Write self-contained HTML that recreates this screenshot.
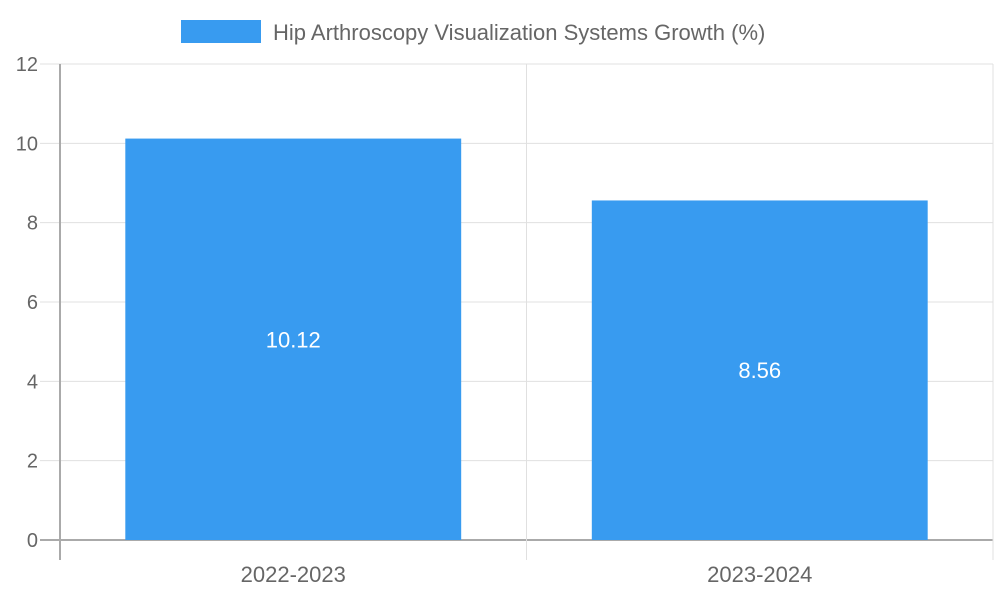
<!DOCTYPE html>
<html><head><meta charset="utf-8"><style>
body{margin:0;background:#fff;}
svg{display:block;font-family:"Liberation Sans",sans-serif;}
</style></head><body>
<svg id="chart" width="1000" height="600"></svg>
<script>
const categories = ["2022-2023", "2023-2024"];
const values = [10.12, 8.56];
const yTicks = [0, 2, 4, 6, 8, 10, 12];
const seriesName = "Hip Arthroscopy Visualization Systems Growth (%)";

const NS = "http://www.w3.org/2000/svg";
const svg = document.getElementById("chart");
const L = 60, R = 993, T = 64, B = 540, yMax = 12;
const y = v => B - v / yMax * (B - T);
const bw = (R - L) / categories.length;
const xc = i => L + bw * (i + 0.5);
function mk(tag, attrs, text) {
  const e = document.createElementNS(NS, tag);
  for (const k in attrs) e.setAttribute(k, attrs[k]);
  if (text !== undefined) e.textContent = text;
  svg.appendChild(e);
  return e;
}
// grid
yTicks.forEach(t => {
  const g = mk("line", {x1: L - 20, x2: R, y1: y(t), y2: y(t), stroke: t === 0 ? "#aaa" : "#e0e0e0", "stroke-width": t === 0 ? 2 : 1});
  
  
  const lb = mk("text", {x: 38, y: y(t) + 7, "text-anchor": "end", "font-size": 20, fill: "#666"}, String(t));
  
  
});
for (let i = 0; i <= categories.length; i++) {
  const x = L + bw * i;
  const g = mk("line", {x1: x, x2: x, y1: T, y2: 560, stroke: i === 0 ? "#aaa" : "#e0e0e0", "stroke-width": i === 0 ? 2 : 1});
  
  
}
categories.forEach((c, i) => {
  const w = bw * 0.72;
  const r = mk("rect", {x: xc(i) - w / 2, y: y(values[i]), width: w, height: B - y(values[i]), fill: "#389bf0"});
  
  
  const v = mk("text", {x: xc(i), y: (y(values[i]) + B) / 2 + 8, "text-anchor": "middle", "font-size": 22, fill: "#fff"}, values[i].toFixed(2));
  
  
  const xl = mk("text", {x: xc(i), y: 582, "text-anchor": "middle", "font-size": 22, fill: "#666"}, c);
  
  
});
const lg = mk("rect", {x: 181, y: 20, width: 80, height: 23, fill: "#389bf0"});


const lt = mk("text", {x: 273, y: 40, "font-size": 22, fill: "#666"}, seriesName);


</script>
</body></html>
